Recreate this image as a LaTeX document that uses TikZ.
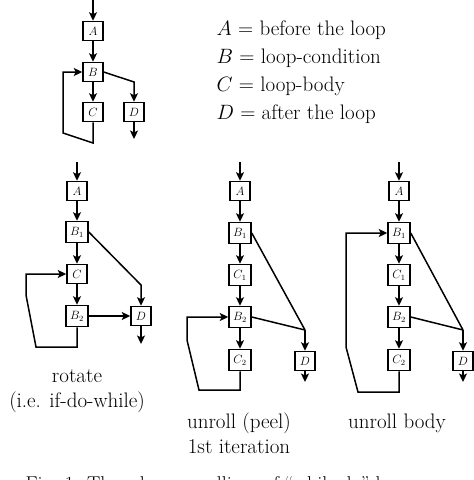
\documentclass[tikz,border=0pt]{standalone}
\usetikzlibrary{arrows.meta}
\begin{document}
\begin{tikzpicture}[x=1pt,y=-1pt,
  blk/.style={draw,line width=1.5pt,minimum width=20pt,minimum height=19pt,inner sep=0pt,font=\fontsize{12}{14}\selectfont},
  blks/.style={blk,minimum width=22pt,minimum height=21pt},
  ln/.style={line width=1.5pt},
  ar/.style={ln,-{Stealth[length=8.5pt,width=8pt,inset=2pt]}},
  lbl/.style={font=\fontsize{21}{26}\selectfont,anchor=base},
  leg/.style={font=\fontsize{21}{28}\selectfont,anchor=base west}]
\useasboundingbox (0,0) rectangle (474,480);

% ---------- top: original loop ----------
\node[blk] (tA) at (93,31) {$A$};
\node[blk] (tB) at (93,72) {$B$};
\node[blk] (tC) at (93,112) {$C$};
\node[blk] (tD) at (134,112) {$D$};
\coordinate (tin) at (93,0);
\coordinate (tout) at (134,139);
\draw[ar] (tin) -- (tA);
\draw[ar] (tA) -- (tB);
\draw[ar] (tB) -- (tC);
\draw[ar] (tB.east) -- (134,82) -- (tD.north);
\draw[ar] (tD) -- (tout);
\draw[ar] (tC.south) -- (93,143) -- (63,133) -- (63,72) -- (tB.west);

% ---------- legend ----------
\node[leg] (l1) at (213,35) {$A$ = before the loop};
\node[leg] (l2) at (213,63) {$B$ = loop-condition};
\node[leg] (l3) at (213,91) {$C$ = loop-body};
\node[leg] (l4) at (213,119) {$D$ = after the loop};

% ---------- rotate ----------
\node[blk]  (rA)  at (77,191) {$A$};
\node[blks] (rB1) at (77,232) {$B_1$};
\node[blk]  (rC)  at (77,274) {$C$};
\node[blks] (rB2) at (77,316) {$B_2$};
\node[blk]  (rD)  at (141,316) {$D$};
\coordinate (rin) at (77,162);
\coordinate (rout) at (141,344);
\draw[ar] (rin) -- (rA);
\draw[ar] (rA) -- (rB1);
\draw[ar] (rB1) -- (rC);
\draw[ar] (rC) -- (rB2);
\draw[ar] (rB1.east) -- (141,285) -- (rD.north);
\draw[ar] (rB2) -- (rD);
\draw[ar] (rD) -- (rout);
\draw[ar] (rB2.south) -- (77,347) -- (36,347) -- (26,295) -- (26,274) -- (rC.west);
\node[lbl] (rl1) at (77,382) {rotate};
\node[lbl] (rl2) at (77,407) {(i.e. if-do-while)};

% ---------- unroll (peel) ----------
\node[blk]  (pA)  at (240,191) {$A$};
\node[blks] (pB1) at (240,233) {$B_1$};
\node[blks] (pC1) at (240,275) {$C_1$};
\node[blks] (pB2) at (240,317) {$B_2$};
\node[blks] (pC2) at (240,360) {$C_2$};
\node[blk]  (pD)  at (305,361) {$D$};
\coordinate (pin) at (240,162);
\coordinate (pout) at (305,382);
\coordinate (pj) at (305,330);
\draw[ar] (pin) -- (pA);
\draw[ar] (pA) -- (pB1);
\draw[ar] (pB1) -- (pC1);
\draw[ar] (pC1) -- (pB2);
\draw[ar] (pB2) -- (pC2);
\draw[ln] (pB1.east) -- (pj);
\draw[ln] (pB2.east) -- (pj);
\draw[ar] (pj) -- (pD.north);
\draw[ar] (pD) -- (pout);
\draw[ar] (pC2.south) -- (240,390) -- (199,390) -- (187,340) -- (187,317) -- (pB2.west);
\node[lbl] (pl1) at (239,428) {unroll (peel)};
\node[lbl] (pl2) at (239,453) {1st iteration};

% ---------- unroll body ----------
\node[blk]  (uA)  at (399,191) {$A$};
\node[blks] (uB1) at (399,233) {$B_1$};
\node[blks] (uC1) at (399,275) {$C_1$};
\node[blks] (uB2) at (399,317) {$B_2$};
\node[blks] (uC2) at (399,360) {$C_2$};
\node[blk]  (uD)  at (463,361) {$D$};
\coordinate (uin) at (399,162);
\coordinate (uout) at (463,382);
\coordinate (uj) at (463,330);
\draw[ar] (uin) -- (uA);
\draw[ar] (uA) -- (uB1);
\draw[ar] (uB1) -- (uC1);
\draw[ar] (uC1) -- (uB2);
\draw[ar] (uB2) -- (uC2);
\draw[ln] (uB1.east) -- (uj);
\draw[ln] (uB2.east) -- (uj);
\draw[ar] (uj) -- (uD.north);
\draw[ar] (uD) -- (uout);
\draw[ar] (uC2.south) -- (399,392) -- (358,392) -- (346,347) -- (346,233) -- (uB1.west);
\node[lbl] (ul1) at (397,428) {unroll body};

% ---------- caption (cut off at the lower edge, as in the reference) ----------
\node[font=\fontsize{20}{24}\selectfont,anchor=base west] (cap) at (22,490) {Fig. 1. Three loop unrollings of “while do” loop};
\end{tikzpicture}
\end{document}
